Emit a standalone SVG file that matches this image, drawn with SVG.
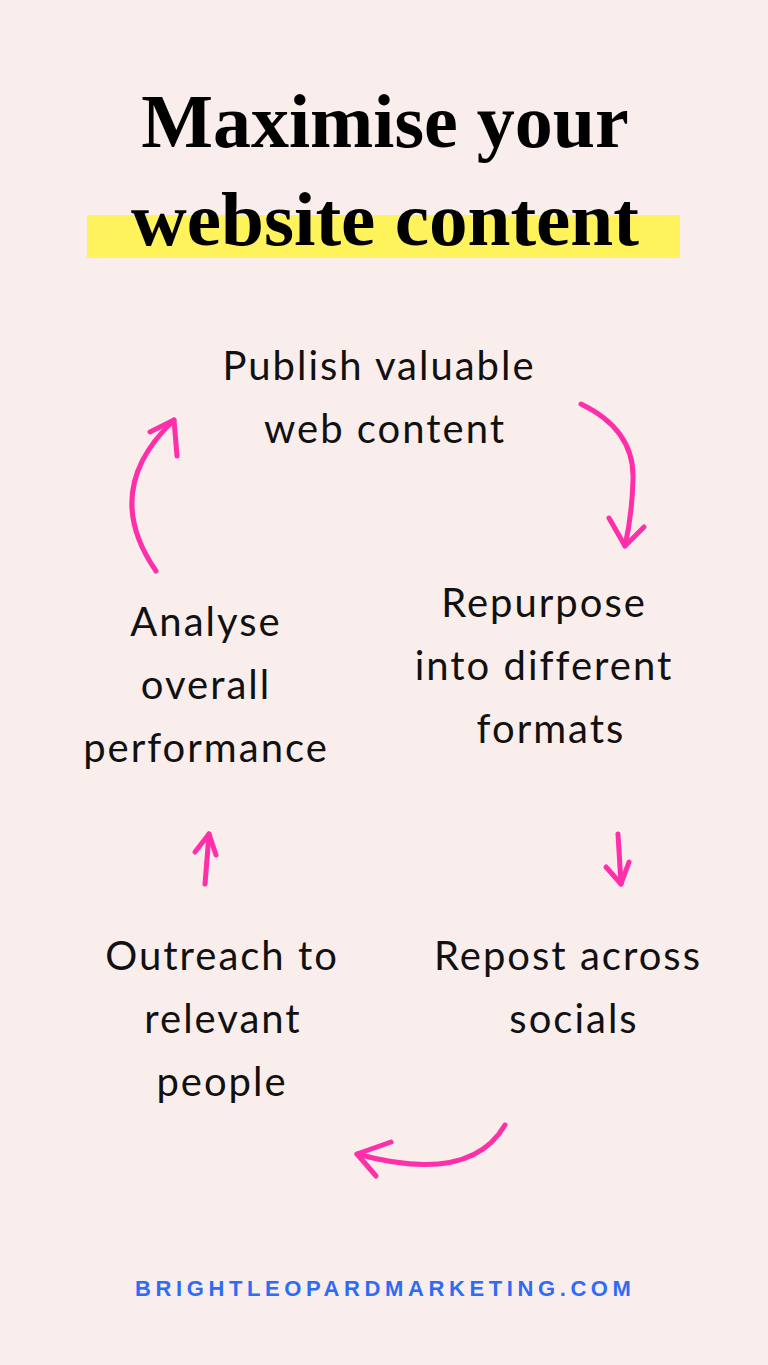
<svg xmlns="http://www.w3.org/2000/svg" width="768" height="1365" viewBox="0 0 768 1365">
<style>
.title{font-family:"Liberation Serif","DejaVu Serif",serif;font-weight:bold;font-size:76px;fill:#000;text-anchor:middle}
.lbl{font-family:Lato,"Noto Sans",sans-serif;font-size:40px;letter-spacing:2px;fill:#111;text-anchor:middle}
.foot{font-family:"Liberation Sans",Arial,sans-serif;font-weight:bold;font-size:22px;fill:#2e6cf6;letter-spacing:4.6px}
.arr{fill:none;stroke:#fe2fa8;stroke-width:5;stroke-linecap:round;stroke-linejoin:round}
</style>
<rect width="768" height="1365" fill="#f9eeec"/>
<g id="title">
<rect x="87" y="215" width="593" height="43" fill="#fef35a"/>
<text class="title" x="385" y="147">Maximise your</text>
<text class="title" x="385" y="245" textLength="508" lengthAdjust="spacingAndGlyphs">website content</text>
</g>
<g id="node-publish">
<text class="lbl" x="379" y="380">Publish valuable</text>
<text class="lbl" x="385" y="443">web content</text>
</g>
<g id="node-repurpose">
<text class="lbl" x="544" y="617">Repurpose</text>
<text class="lbl" x="544" y="680">into different</text>
<text class="lbl" x="551" y="743">formats</text>
</g>
<g id="node-repost">
<text class="lbl" x="568" y="970">Repost across</text>
<text class="lbl" x="574" y="1033">socials</text>
</g>
<g id="node-outreach">
<text class="lbl" x="222" y="970">Outreach to</text>
<text class="lbl" x="223" y="1033">relevant</text>
<text class="lbl" x="222" y="1096">people</text>
</g>
<g id="node-analyse">
<text class="lbl" x="206" y="636">Analyse</text>
<text class="lbl" x="206" y="699">overall</text>
<text class="lbl" x="206" y="762">performance</text>
</g>
<g id="connectors">
<path class="arr" d="M581,404 Q635,430 633,480 Q632,515 625,546"/>
<path class="arr" d="M609,518 L625,546 L644,527"/>
<path class="arr" d="M618,834 L621,884"/>
<path class="arr" d="M606,867 L621,884 L629,862"/>
<path class="arr" d="M505,1125 Q470,1185 357,1154"/>
<path class="arr" d="M391,1142 L357,1154 L376,1176"/>
<path class="arr" d="M209,834 L205,884"/>
<path class="arr" d="M195,852 L209,834 L216,855"/>
<path class="arr" d="M156,571 Q100,490 174,420"/>
<path class="arr" d="M150,432 L174,420 L177,456"/>
</g>
<g id="footer">
<text class="foot" x="135" y="1296">BRIGHTLEOPARDMARKETING.COM</text>
</g>
</svg>
